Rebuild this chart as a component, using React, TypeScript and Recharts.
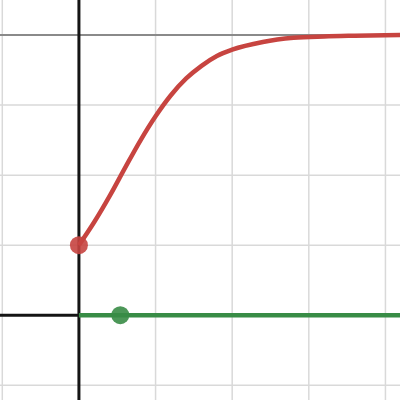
import React from 'react';
import {
  ComposedChart,
  Line,
  Scatter,
  XAxis,
  YAxis,
  ReferenceLine,
} from 'recharts';

// grid values (one unit per grid cell)
const gridX = [-1, 1, 2, 3, 4];
const gridY = [-1, 1, 2, 3];
const asymptoteY = 4;

// red growth curve
const curveX = [0, 0.2, 0.4, 0.6, 0.8, 1.0, 1.2, 1.4, 1.6, 1.8, 2.0, 2.4, 2.8, 3.2, 3.6, 4.2];
const curveY = [1.0, 1.33, 1.7, 2.1, 2.49, 2.84, 3.14, 3.38, 3.56, 3.7, 3.79, 3.9, 3.96, 3.98, 3.99, 4.0];

// green flat line and the two points
const flatX = [0, 4.2];
const flatY = [0, 0];
const redPoint = [{ x: 0, y: 1 }];
const greenPoint = [{ x: 0.54, y: 0 }];

const curveData = curveX.map((x, i) => ({ x, y: curveY[i] }));
const flatData = flatX.map((x, i) => ({ x, y: flatY[i] }));

const RED = '#c74440';
const GREEN = '#388c46';

const Dot = (color: string) => (props: any) => (
  <circle cx={props.cx} cy={props.cy} r={9} fill={color} fillOpacity={0.9} />
);

export default function App() {
  return (
    <div style={{ position: 'absolute', left: 0, top: 0, width: 400, height: 400, background: '#fff' }}>
      <ComposedChart width={400} height={400} margin={{ top: 0, right: 0, bottom: 0, left: 0 }}>
        <XAxis type="number" dataKey="x" domain={[-1.03, 4.19]} allowDataOverflow hide />
        <YAxis type="number" dataKey="y" domain={[-1.21, 4.5]} allowDataOverflow hide />
        {gridX.map((v) => (
          <ReferenceLine key={'gx' + v} x={v} stroke="#d9d9d9" strokeWidth={1.5} />
        ))}
        {gridY.map((v) => (
          <ReferenceLine key={'gy' + v} y={v} stroke="#d9d9d9" strokeWidth={1.5} />
        ))}
        <ReferenceLine y={asymptoteY} stroke="#8a8a8a" strokeWidth={2} />
        <ReferenceLine x={0} stroke="#141414" strokeWidth={3} />
        <ReferenceLine y={0} stroke="#141414" strokeWidth={3} />
        <Line
          data={flatData}
          dataKey="y"
          type="linear"
          stroke={GREEN}
          strokeWidth={4.5}
          dot={false}
          activeDot={false}
          isAnimationActive={false}
        />
        <Line
          data={curveData}
          dataKey="y"
          type="monotone"
          stroke={RED}
          strokeWidth={4.5}
          dot={false}
          activeDot={false}
          isAnimationActive={false}
        />
        <Scatter data={redPoint} dataKey="y" shape={Dot(RED)} isAnimationActive={false} />
        <Scatter data={greenPoint} dataKey="y" shape={Dot(GREEN)} isAnimationActive={false} />
      </ComposedChart>
    </div>
  );
}
